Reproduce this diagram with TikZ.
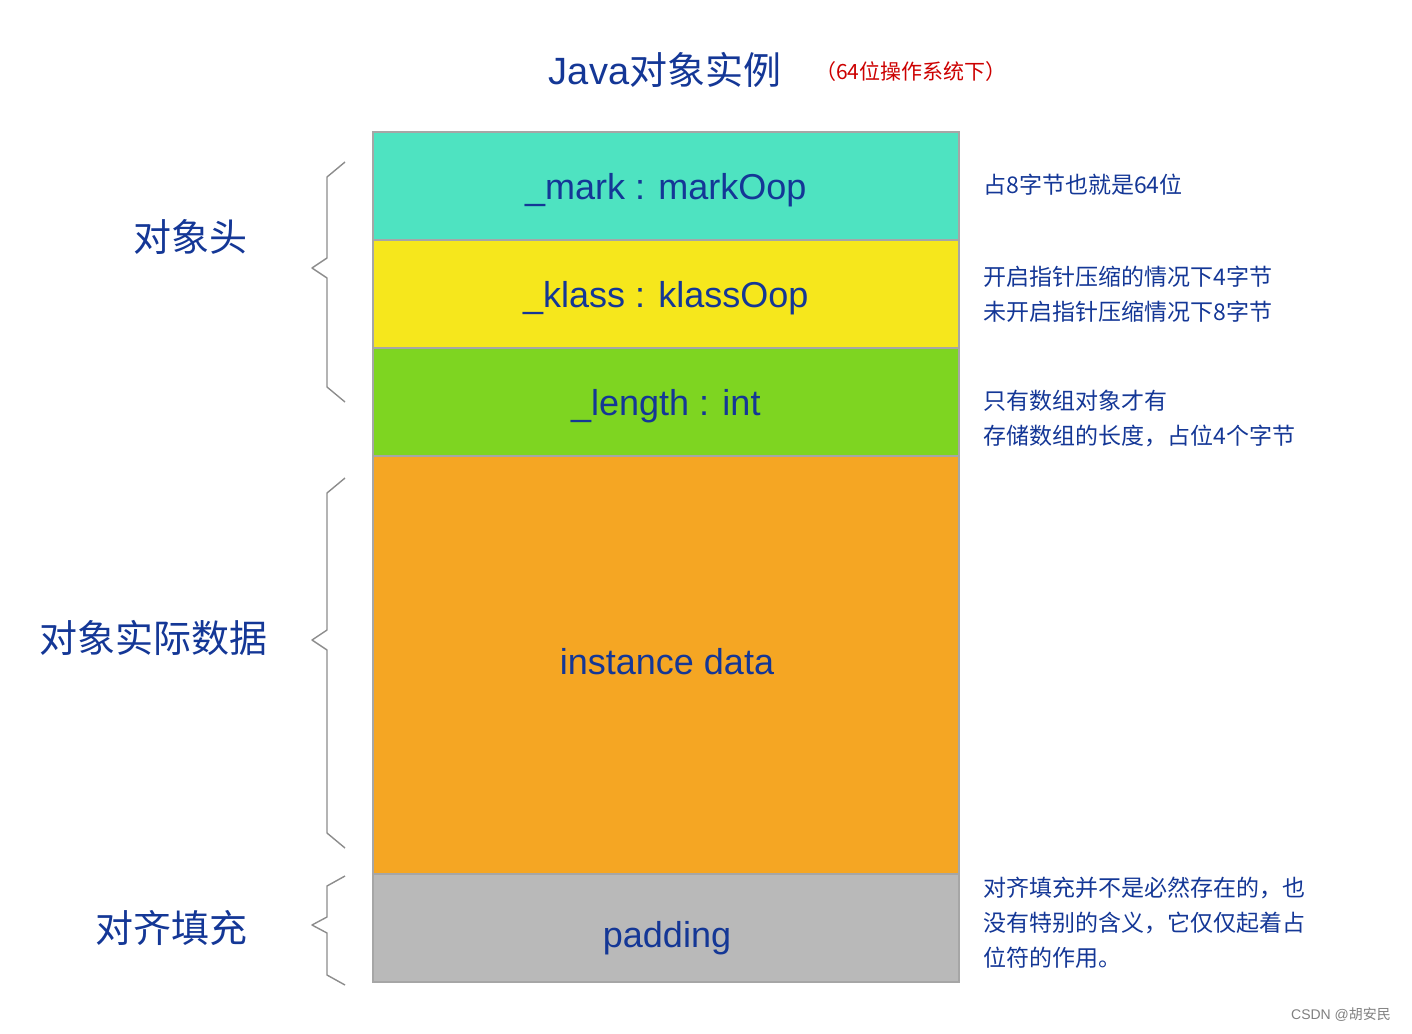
\documentclass[tikz,border=0pt]{standalone}
\usepackage{fontspec}
\setmainfont{Noto Sans CJK SC}
\newfontfamily\latinf{Liberation Sans}
\definecolor{tblue}{RGB}{20,55,150}
\begin{document}
\begin{tikzpicture}[x=0.5pt,y=-0.5pt,
  cell/.style={draw=black!35,line width=0.8pt,minimum width=293pt,anchor=north west,inner sep=0pt},
  lbl/.style={text=tblue,font=\fontsize{19}{22}\selectfont},
  box/.style={text=tblue,font=\latinf\fontsize{18}{22}\selectfont},
  note/.style={text=tblue,font=\fontsize{11.5}{17.5}\selectfont,align=left,anchor=north west,inner sep=0pt},
  brace/.style={draw=black!45,line width=0.7pt,line join=round}]
\useasboundingbox (0,0) rectangle (1412,1033);
\node[cell,fill={rgb,255:red,78;green,227;blue,193},minimum height=54pt] (mark) at (372,131) {};
\node[cell,fill={rgb,255:red,246;green,231;blue,28},minimum height=54pt] (klass) at (372,239) {};
\node[cell,fill={rgb,255:red,126;green,213;blue,33},minimum height=54pt] (len) at (372,347) {};
\node[cell,fill={rgb,255:red,245;green,166;blue,35},minimum height=209pt] (data) at (372,455) {};
\node[cell,fill={rgb,255:red,185;green,185;blue,185},minimum height=54pt] (pad) at (372,873) {};
\node[box] (t1) at ([yshift=-2pt]mark.center) {\_mark : markOop};
\node[box] (t2) at ([yshift=-2pt]klass.center) {\_klass : klassOop};
\node[box] (t3) at ([yshift=-2pt]len.center) {\_length : int};
\node[box] (t4) at (667,662) {instance data};
\node[box] (t5) at (667,938) {padding};
\node[lbl] (title) at (665,70) {\latinf Java\normalfont 对象实例};
\node[text=red!80!black,font=\fontsize{10.5}{12}\selectfont,anchor=west] (sub) at (808,72) {（64位操作系统下）};
\node[lbl,anchor=east] (h1) at (255,237) {对象头};
\node[lbl,anchor=east] (h2) at (275,638) {对象实际数据};
\node[lbl,anchor=east] (h3) at (255,928) {对齐填充};
\node[note] (n1) at (983,174) {占8字节也就是64位};
\node[note] (n2) at (983,266) {开启指针压缩的情况下4字节\\未开启指针压缩情况下8字节};
\node[note] (n3) at (983,390) {只有数组对象才有\\存储数组的长度，占位4个字节};
\node[note] (n4) at (983,877) {对齐填充并不是必然存在的，也\\没有特别的含义，它仅仅起着占\\位符的作用。};
\node[text=black!50,font=\fontsize{7}{8}\selectfont,anchor=east] (csdn) at (1398,1015) {\latinf CSDN @\normalfont 胡安民};
\draw[brace] (345,162) -- (327,177) -- (327,258) -- (312,268) -- (327,278) -- (327,387) -- (345,402);
\draw[brace] (345,478) -- (327,493) -- (327,630) -- (312,640) -- (327,650) -- (327,833) -- (345,848);
\draw[brace] (345,876) -- (327,886) -- (327,917) -- (312,925) -- (327,933) -- (327,975) -- (345,985);
\end{tikzpicture}
\end{document}
